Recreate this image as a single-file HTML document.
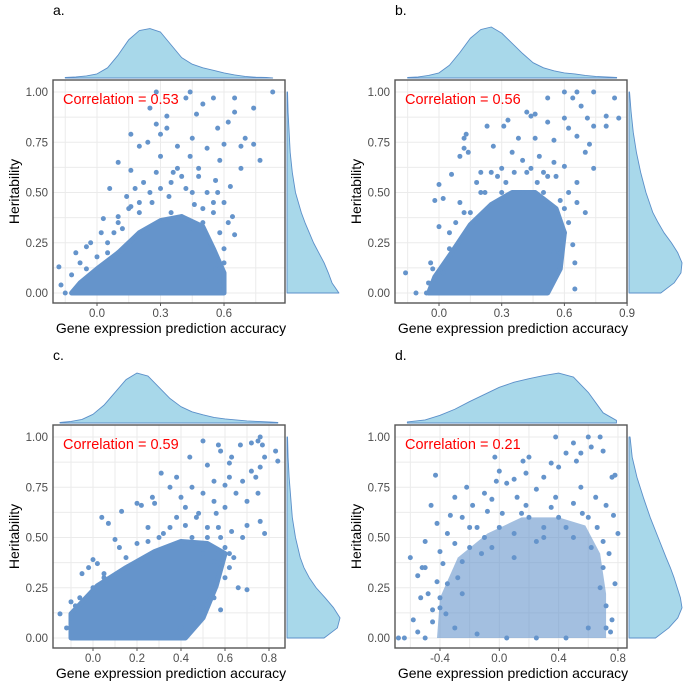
<!DOCTYPE html>
<html><head><meta charset="utf-8"><style>
body{margin:0;background:#fff;}
svg{display:block;font-family:"Liberation Sans",Arial,sans-serif;}
</style></head><body>
<svg id="chart" width="685" height="689" viewBox="0 0 685 689"></svg>
<script>
// ---------- DATA ----------
const panelLabels = ["a.", "b.", "c.", "d."];
const corrLabels = ["Correlation = 0.53", "Correlation = 0.56", "Correlation = 0.59", "Correlation = 0.21"];
const xTicksA = [0.0, 0.3, 0.6];
const xTicksB = [0.0, 0.3, 0.6, 0.9];
const xTicksC = [0.0, 0.2, 0.4, 0.6, 0.8];
const xTicksD = [-0.4, 0.0, 0.4, 0.8];
const yTicks = [0.00, 0.25, 0.50, 0.75, 1.00];

const ptsAx = [0.83,0.28,0.44,0.42,0.55,0.65,0.5,0.25,0.74,0.65,0.47,0.33,0.28,0.33,0.57,0.62,0.16,0.3,0.45,0.7,0.77,0.2,0.24,0.38,0.52,0.6,0.68,0.74,0.1,0.3,0.44,0.58,0.68,0.16,0.28,0.36,0.48,0.56,0.63,0.06,0.14,0.22,0.42,0.52,0.6,0.03,0.1,0.16,0.26,0.34,0.46,0.55,0.64,-0.03,0.02,0.08,0.12,0.2,0.58,0.65,-0.1,-0.05,-0.08,-0.12,-0.18,-0.17,-0.15,0.0,0.05,0.6,0.56,0.58,0.52,0.1,0.22,0.35,0.4,0.5,0.44,0.3,0.15,0.25,0.35,0.45,0.55,0.62,0.6,0.5,0.2,0.1,0.05,-0.05,0.3,0.4,0.18,0.38,0.48,0.57];
const ptsAy = [1.0,1.0,1.0,0.97,0.97,0.97,0.94,0.92,0.92,0.9,0.89,0.88,0.84,0.82,0.82,0.85,0.79,0.79,0.77,0.77,0.66,0.73,0.75,0.73,0.72,0.74,0.73,0.74,0.65,0.68,0.68,0.66,0.62,0.61,0.6,0.6,0.58,0.56,0.53,0.52,0.48,0.55,0.52,0.5,0.45,0.37,0.38,0.43,0.45,0.48,0.44,0.4,0.38,0.25,0.3,0.3,0.32,0.4,0.3,0.29,0.2,0.23,0.15,0.09,0.13,0.04,0,0.18,0.2,0.22,0.12,0.04,0.06,0.2,0.3,0.4,0.38,0.35,0.3,0.35,0.42,0.5,0.55,0.5,0.45,0.35,0.15,0.42,0.45,0.35,0.25,0.12,0.52,0.58,0.52,0.62,0.62,0.5];
const coreAx = [-0.12,0.6,0.6,0.55,0.5,0.4,0.3,0.2,0.1,0.0,-0.08];
const coreAy = [0,0,0.1,0.22,0.33,0.38,0.36,0.3,0.2,0.12,0.05];

const ptsBx = [-0.16,-0.11,-0.06,-0.05,-0.04,-0.03,0.0,-0.02,0.0,0.02,0.05,0.06,0.1,0.12,0.13,0.12,0.14,0.2,0.23,0.26,0.33,0.31,0.44,0.42,0.46,0.52,0.6,0.66,0.74,0.64,0.68,0.84,0.86,0.8,0.71,0.6,0.8,0.74,0.62,0.52,0.46,0.38,0.55,0.66,0.72,0.7,0.74,0.7,0.66,0.6,0.55,0.48,0.4,0.35,0.3,0.25,0.18,0.62,0.58,0.5,0.66,0.64,0.65,0.65,0.55,0.6,0.47,0.4,0.3,0.1,0.08,0.15,0.5,0.56,0.2,0.28,0.36,0.44,0.52,0.6,0.62,0.58,0.12,0.05,0.02,0.42,0.32,0.22];
const ptsBy = [0.1,0,0,0.05,0.15,0.12,0.33,0.46,0.54,0.47,0.3,0.59,0.68,0.77,0.79,0.72,0.7,0.6,0.83,0.73,0.86,0.83,0.88,0.9,0.89,0.97,1.0,1.0,1.0,0.97,0.93,0.97,0.87,0.88,0.87,0.87,0.83,0.83,0.82,0.85,0.77,0.77,0.76,0.78,0.74,0.7,0.62,0.4,0.55,0.63,0.65,0.68,0.66,0.7,0.62,0.6,0.55,0.5,0.46,0.5,0.45,0.24,0.15,0.02,0.2,0.3,0.55,0.5,0.5,0.45,0.35,0.4,0.6,0.58,0.5,0.58,0.6,0.62,0.58,0.42,0.35,0.2,0.4,0.22,0.1,0.6,0.55,0.5];
const coreBx = [-0.05,0.52,0.58,0.6,0.56,0.46,0.35,0.25,0.15,0.06,-0.02];
const coreBy = [0,0,0.12,0.3,0.42,0.5,0.5,0.44,0.34,0.2,0.08];

const ptsCx = [-0.15,-0.12,-0.1,-0.08,-0.05,-0.06,-0.02,0.0,0.02,0.05,0.04,0.07,0.1,0.12,0.13,0.2,0.22,0.27,0.28,0.31,0.38,0.35,0.44,0.5,0.52,0.57,0.58,0.62,0.63,0.67,0.72,0.76,0.75,0.77,0.83,0.84,0.78,0.76,0.72,0.74,0.68,0.62,0.6,0.55,0.5,0.45,0.4,0.42,0.48,0.55,0.6,0.65,0.7,0.75,0.76,0.78,0.7,0.68,0.63,0.6,0.57,0.52,0.45,0.35,0.3,0.25,0.2,0.38,0.62,0.6,0.55,0.55,0.58,0.66,0.7,0.64,0.5,0.45,0.38,0.4,0.15,0.25,0.32,0.42,0.52,0.58,0.62,0.05,0.0,-0.1,0.47,0.56];
const ptsCy = [0.12,0.05,0.1,0.16,0.32,0.2,0.35,0.39,0.37,0.3,0.6,0.57,0.49,0.45,0.63,0.67,0.66,0.7,0.67,0.82,0.8,0.75,0.9,0.98,0.86,0.96,0.93,0.87,0.9,0.96,0.97,1.0,0.98,0.96,0.93,0.88,0.9,0.85,0.83,0.8,0.78,0.8,0.76,0.78,0.72,0.75,0.7,0.65,0.62,0.68,0.65,0.72,0.68,0.72,0.58,0.52,0.56,0.5,0.53,0.45,0.55,0.5,0.5,0.55,0.5,0.55,0.47,0.6,0.35,0.3,0.38,0.2,0.14,0.25,0.24,0.4,0.42,0.15,0.03,0.05,0.4,0.48,0.52,0.56,0.55,0.5,0.42,0.32,0.25,0.18,0.6,0.62];
const coreCx = [-0.1,0.42,0.5,0.56,0.6,0.52,0.4,0.28,0.15,0.02,-0.1];
const coreCy = [0,0,0.1,0.26,0.42,0.47,0.48,0.43,0.35,0.26,0.12];

const ptsDx = [-0.68,-0.64,-0.6,-0.58,-0.55,-0.53,-0.5,-0.5,-0.46,-0.45,-0.43,-0.42,-0.4,-0.38,-0.35,-0.33,-0.3,-0.3,-0.25,-0.22,-0.2,-0.18,-0.15,-0.1,-0.08,-0.05,-0.03,-0.02,0.0,0.05,0.1,0.12,0.16,0.18,0.2,0.25,0.3,0.35,0.38,0.4,0.45,0.5,0.52,0.55,0.6,0.62,0.68,0.7,0.76,0.78,0.8,0.77,0.78,0.76,0.75,0.72,0.7,0.72,0.65,0.6,0.55,0.5,0.45,0.4,0.3,0.2,0.1,0.0,-0.1,-0.2,-0.25,-0.35,-0.4,-0.45,-0.55,-0.5,0.7,0.68,0.72,0.6,0.5,0.35,0.15,-0.05,0.25,-0.3,-0.15,0.05,0.25,0.45,0.62,-0.42,-0.25,0.1,0.3,-0.48,-0.36,-0.28,-0.12,0.02,0.18,0.38,0.56,0.66,0.74,-0.52,-0.4];
const ptsDy = [0,0,0.4,0.09,0.31,0.2,0.48,0.35,0.66,0.14,0.81,0.57,0.43,0.37,0.52,0.61,0.47,0.7,0.6,0.75,0.45,0.66,0.55,0.72,0.63,0.69,0.9,0.78,0.83,0.77,0.79,0.7,0.88,0.82,0.9,0.74,0.8,0.87,1.0,0.85,0.92,0.97,0.88,0.92,1.0,0.95,1.0,0.93,0.8,0.81,0.52,0.61,0.27,0.09,0.03,0.16,0.48,0.66,0.7,0.6,0.75,0.67,0.55,0.6,0.55,0.6,0.52,0.55,0.5,0.55,0.38,0.27,0.2,0.08,0.03,0,0.35,0.25,0.05,0.05,0.5,0.65,0.62,0.45,0.48,0.05,0.02,0.0,0.0,0.0,0.45,0.28,0.22,0.4,0.5,0.22,0.12,0.3,0.42,0.62,0.66,0.7,0.62,0.55,0.42,0.35,0.15];
const coreDx = [-0.42,0.72,0.72,0.68,0.58,0.4,0.15,-0.08,-0.28,-0.4];
const coreDy = [0,0,0.22,0.42,0.56,0.6,0.6,0.52,0.4,0.2];

// marginal densities (relative heights)
const topGridA = [-0.15,-0.1,-0.05,0,0.05,0.1,0.15,0.2,0.25,0.3,0.35,0.4,0.45,0.5,0.55,0.6,0.65,0.7,0.75,0.8,0.83];
const topDensA = [0.01,0.02,0.04,0.08,0.2,0.45,0.75,0.93,0.97,0.9,0.65,0.4,0.27,0.2,0.15,0.1,0.06,0.03,0.015,0.01,0.0];
const topGridB = [-0.15,-0.1,-0.05,0,0.05,0.1,0.15,0.2,0.25,0.3,0.35,0.4,0.45,0.5,0.55,0.6,0.65,0.7,0.75,0.8,0.85];
const topDensB = [0.01,0.02,0.05,0.1,0.25,0.5,0.78,0.95,1.0,0.88,0.68,0.48,0.3,0.2,0.14,0.1,0.08,0.05,0.03,0.02,0.01];
const topGridC = [-0.15,-0.1,-0.05,0,0.05,0.1,0.15,0.2,0.25,0.3,0.35,0.4,0.45,0.5,0.55,0.6,0.65,0.7,0.75,0.8,0.84];
const topDensC = [0.01,0.03,0.07,0.17,0.35,0.6,0.85,0.98,0.92,0.7,0.48,0.32,0.22,0.16,0.11,0.08,0.06,0.04,0.03,0.02,0.01];
const topGridD = [-0.62,-0.5,-0.4,-0.3,-0.2,-0.1,0,0.1,0.2,0.3,0.4,0.5,0.6,0.7,0.79];
const topDensD = [0.02,0.06,0.15,0.27,0.42,0.56,0.7,0.8,0.87,0.93,0.98,0.9,0.6,0.2,0.05];
const rightGrid = [0,0.05,0.1,0.15,0.2,0.25,0.3,0.35,0.4,0.5,0.6,0.7,0.8,0.9,1.0];
const rightDensA = [0.98,0.85,0.78,0.7,0.6,0.5,0.42,0.34,0.27,0.16,0.1,0.06,0.04,0.02,0.01];
const rightDensB = [0.6,0.85,0.98,1.0,0.92,0.8,0.66,0.55,0.45,0.32,0.22,0.14,0.08,0.04,0.01];
const rightDensC = [0.7,0.95,1.0,0.88,0.72,0.55,0.42,0.32,0.25,0.16,0.1,0.07,0.04,0.02,0.01];
const rightDensD = [0.5,0.75,0.92,1.0,0.97,0.91,0.85,0.78,0.7,0.55,0.4,0.27,0.15,0.06,0.02];

// ---------- LAYOUT ----------
const NS = "http://www.w3.org/2000/svg";
const svg = document.getElementById("chart");
function mk(tag, attrs, parent){
  const e = document.createElementNS(NS, tag);
  for (const k in attrs) e.setAttribute(k, attrs[k]);
  (parent || svg).appendChild(e);
  return e;
}
const panels = [
  {ox:0, oy:0, x0:97, pxPer:211.7, xt:xTicksA, px:ptsAx, py:ptsAy, cx:coreAx, cy:coreAy, tg:topGridA, td:topDensA, rd:rightDensA, coreOp:1},
  {ox:342, oy:0, x0:439, pxPer:209, xt:xTicksB, px:ptsBx, py:ptsBy, cx:coreBx, cy:coreBy, tg:topGridB, td:topDensB, rd:rightDensB, coreOp:1},
  {ox:0, oy:345, x0:93, pxPer:220, xt:xTicksC, px:ptsCx, py:ptsCy, cx:coreCx, cy:coreCy, tg:topGridC, td:topDensC, rd:rightDensC, coreOp:1},
  {ox:342, oy:345, x0:499.3, pxPer:148.3, xt:xTicksD, px:ptsDx, py:ptsDy, cx:coreDx, cy:coreDy, tg:topGridD, td:topDensD, rd:rightDensD, coreOp:0.6}
];

panels.forEach((p, i) => {
  const g = mk("g", {});
  
  
  const L = 53 + p.ox, R = 285 + p.ox, T = 80 + p.oy, B = 303 + p.oy;
  const X = v => p.x0 + v * p.pxPer;
  const Y = v => (293 + p.oy) - v * 201;

  const step = p.xt[1] - p.xt[0];
  for (let v = p.xt[0] - 2 * step; v <= p.xt[p.xt.length - 1] + 2 * step; v += step / 2) {
    const x = X(v);
    if (x > L && x < R) {
      const ln = mk("line", {x1:x, x2:x, y1:T, y2:B, stroke:"#ebebeb", "stroke-width": 1}, g);
      
      
    }
  }
  for (let v = 0; v <= 1.0001; v += 0.125) {
    const ln = mk("line", {x1:L, x2:R, y1:Y(v), y2:Y(v), stroke:"#ebebeb", "stroke-width": 1}, g);
    
    
  }

  const cpts = p.cx.map((v, k) => X(v) + "," + Y(p.cy[k])).join(" ");
  const core = mk("polygon", {points:cpts, fill:"#6594cb", "fill-opacity":p.coreOp,
    stroke: p.coreOp < 1 ? "none" : "#6594cb", "stroke-width":5, "stroke-linejoin":"round"}, g);
  
  

  p.px.forEach((v, k) => {
    const c = mk("circle", {cx:X(v), cy:Y(p.py[k]), r:2.5, fill:"#6594cb"}, g);
    
    
  });

  const bd = mk("rect", {x:L, y:T, width:R-L, height:B-T, fill:"none", stroke:"#555", "stroke-width":1.4}, g);
  
  

  p.xt.forEach(v => {
    const t = mk("text", {x:X(v), y:B+14, "text-anchor":"middle", "font-size":11.5, fill:"#4d4d4d"}, g);
    t.textContent = v.toFixed(1);
    
    
    const tk = mk("line", {x1:X(v), x2:X(v), y1:B, y2:B+3, stroke:"#555"}, g);
    
    
  });
  yTicks.forEach(v => {
    const t = mk("text", {x:L-5, y:Y(v)+4, "text-anchor":"end", "font-size":11.5, fill:"#4d4d4d"}, g);
    t.textContent = v.toFixed(2);
    
    
  });

  const xt = mk("text", {x:(L+R)/2 + 2, y:B+30, "text-anchor":"middle", "font-size":14, fill:"#000"}, g);
  xt.textContent = "Gene expression prediction accuracy";
  
  
  const yt = mk("text", {x:0, y:0, transform:`translate(${p.ox+19},${(T+B)/2}) rotate(-90)`, "text-anchor":"middle", "font-size":14, fill:"#000"}, g);
  yt.textContent = "Heritability";
  
  
  const pl = mk("text", {x:p.ox+53, y:p.oy+15, "font-size":14, fill:"#000"}, g);
  pl.textContent = panelLabels[i];
  
  
  const cr = mk("text", {x:L+10, y:T+24, "font-size":14.5, fill:"#ff0000"}, g);
  cr.textContent = corrLabels[i];
  
  

  const base = 78 + p.oy, H = 51;
  let d = `M${X(p.tg[0])},${base}`;
  p.tg.forEach((v, k) => { d += ` L${X(v)},${base - p.td[k] * H}`; });
  d += ` L${X(p.tg[p.tg.length-1])},${base} Z`;
  const td = mk("path", {d, fill:"#a8d8ea", stroke:"#5b8fc9", "stroke-width":0.9, "stroke-linejoin":"round"}, g);
  
  

  const rb = R + 2, W = 53;
  let rdp = `M${rb},${Y(1)}`;
  for (let k = rightGrid.length - 1; k >= 0; k--) {
    rdp += ` L${rb + p.rd[k] * W},${Y(rightGrid[k])}`;
  }
  rdp += ` L${rb},${Y(0)} Z`;
  const rd = mk("path", {d:rdp, fill:"#a8d8ea", stroke:"#5b8fc9", "stroke-width":0.9, "stroke-linejoin":"round"}, g);
  
  
});
</script>
</body></html>
